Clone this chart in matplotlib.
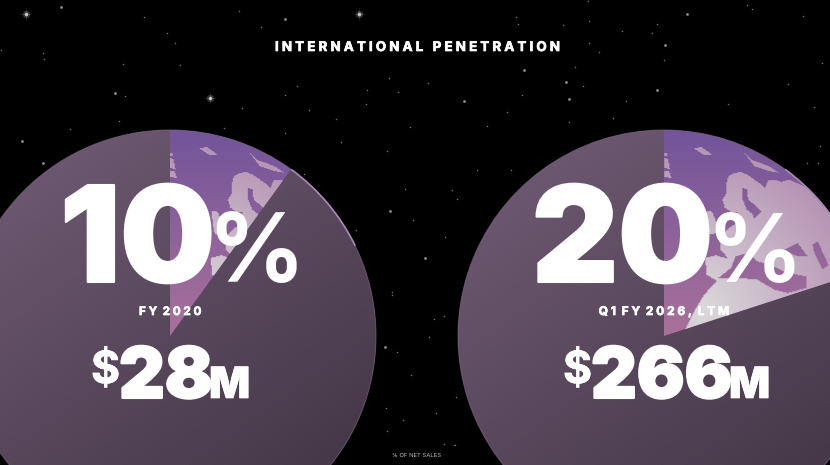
#!/usr/bin/env python3
# -*- coding: utf-8 -*-
import numpy as np
import matplotlib
matplotlib.use('Agg')
import matplotlib.pyplot as plt
import matplotlib.patheffects as pe
from matplotlib.patches import Arc
from matplotlib.path import Path
from matplotlib.colors import to_rgb

W, H = 830, 465

# chart values
title = 'I N T E R N A T I O N A L   P E N E T R A T I O N'
shares = [10, 20]
share_labels = ['10', '20']
periods = ['F Y  2 0 2 0', 'Q 1  F Y  2 0 2 6 ,  L T M']
dollars = ['28', '266']
footnote = '% OF NET SALES'

# globe centres and radius in picture pixels
centers = [(170, 336), (664, 336)]
radius = 206

# stars: x, y
stars_big = [(26, 14), (359, 14), (210, 98)]
stars_mid = [(115, 93), (390, 211), (385, 347), (464, 101), (566, 82), (657, 90), (524, 70),
             (61, 7), (285, 19), (665, 45), (687, 14), (43, 163), (22, 141), (425, 258), (569, 99)]
stars_small = [(588, 1), (657, 24), (747, 5), (752, 9), (803, 16), (664, 60), (575, 67), (583, 86),
               (428, 83), (788, 84), (822, 63), (814, 107), (613, 118), (569, 122), (487, 126),
               (507, 112), (522, 95), (626, 101), (728, 104), (518, 24), (589, 21), (563, 25),
               (622, 31), (652, 33), (599, 52), (589, 43), (516, 17), (43, 53), (44, 59), (180, 65),
               (175, 43), (167, 33), (261, 27), (239, 11), (309, 110), (366, 104), (367, 90),
               (389, 78), (398, 92), (297, 86), (285, 95), (336, 119), (285, 133), (70, 129),
               (224, 128), (125, 96), (123, 64), (144, 17), (119, 121), (410, 127), (1, 50),
               (242, 108), (445, 237), (405, 189), (413, 220), (452, 190), (457, 199), (387, 151),
               (392, 292), (392, 295), (434, 319), (444, 316), (429, 337), (397, 352), (411, 375),
               (456, 397), (436, 413), (386, 408), (403, 420), (454, 445), (444, 444), (387, 431),
               (356, 230), (304, 174), (341, 142), (477, 170), (511, 170), (455, 445), (818, 163),
               (820, 146), (807, 163), (395, 455)]

land_shapes = [
    [(262, 155), (280, 146), (298, 142), (320, 150), (340, 165), (360, 178), (372, 190), (382, 168),
     (400, 165), (420, 172), (445, 165), (500, 190), (575, 240),
     (640, 300), (640, 560), (120, 640), (160, 560), (190, 510), (228, 468), (198, 450), (195, 420),
     (192, 400), (225, 392), (262, 402), (240, 375), (235, 340), (262, 312), (292, 292), (286, 272),
     (290, 262), (270, 262), (252, 250), (245, 225), (258, 205), (255, 185)],
    [(195, 258), (215, 262), (225, 290), (232, 325), (205, 330), (200, 300)],
    [(160, 72), (180, 67), (200, 80), (212, 90), (190, 92)],
    [(310, 85), (330, 105), (385, 125), (415, 145), (385, 140), (340, 125)],
    [(70, 85), (80, 85), (80, 95), (72, 95)],
    [(72, 100), (82, 105), (88, 135), (72, 130)],
    [(72, 140), (85, 140), (92, 160), (72, 158)],
]
sea_shapes = [
    [(305, 190), (318, 195), (322, 225), (340, 240), (362, 262), (350, 272), (340, 282), (335, 268),
     (318, 255), (306, 225)],
    [(285, 395), (320, 385), (350, 410), (385, 420), (430, 440), (470, 450), (495, 455), (495, 490),
     (440, 505), (400, 495), (350, 465), (300, 460), (230, 462), (270, 430)],
    [(430, 375), (470, 355), (500, 395), (470, 395), (440, 382)],
    [(515, 360), (530, 350), (562, 420), (545, 435), (520, 385)],
]


def blend(t, c0, c1):
    t = np.clip(t, 0, 1)[..., None]
    return np.array(to_rgb(c0)) * (1 - t) + np.array(to_rgb(c1)) * t


def shape_mask(shapes, px, py):
    pts = np.column_stack([px.ravel(), py.ravel()])
    mask = np.zeros(len(pts), dtype=bool)
    for shape in shapes:
        # crop pixels -> offsets from the globe centre
        verts = [(640 + x / 3 - 664, 125 + y / 3 - 336) for x, y in shape]
        mask |= Path(verts).contains_points(pts)
    return mask.reshape(px.shape)


fig = plt.figure(figsize=(W / 100, H / 100), dpi=100, facecolor='black')
ax = fig.add_axes([0, 0, 1, 1])

ax.scatter(*zip(*[(x, H - y) for x, y in stars_big]), s=30, color='white', alpha=0.18, lw=0, zorder=1)
ax.scatter(*zip(*[(x, H - y) for x, y in stars_big]), s=7, color='#bdbdbd', lw=0, zorder=1)
ax.scatter(*zip(*[(x, H - y) for x, y in stars_big]), s=70, marker='+', color='white', alpha=0.2, lw=0.4, zorder=1)
ax.scatter(*zip(*[(x, H - y) for x, y in stars_mid]), s=4, color='#8c8c8c', lw=0, zorder=1)
ax.scatter(*zip(*[(x, H - y) for x, y in stars_small]), s=1.2, color='#6e6e6e', lw=0, zorder=1)

for i, (cx, cy) in enumerate(centers):
    wedges, _ = ax.pie([shares[i], 100 - shares[i]], startangle=90, counterclock=False,
                       center=(cx, H - cy), radius=radius, colors=['#85609a', '#54445a'],
                       wedgeprops={'linewidth': 0, 'zorder': 2})

    px, py = np.meshgrid(np.arange(-radius, radius + 1.0), np.arange(-radius, radius + 1.0))
    extent = (cx - radius - 0.5, cx + radius + 0.5, H - cy - radius - 0.5, H - cy + radius + 0.5)

    # disc shading, light at upper left, dark at lower right
    t = 0.5 + 0.62 * (0.7 * py + 0.5 * px) / radius
    disc = blend(t, '#6a566e', '#463849')
    im = ax.imshow(disc, extent=extent, origin='upper', zorder=3, interpolation='bilinear')
    im.set_clip_path(wedges[1])

    # sea
    sea = blend((py + radius) / radius, '#72549a', '#a9719b')
    im = ax.imshow(sea, extent=extent, origin='upper', zorder=3, interpolation='bilinear')
    im.set_clip_path(wedges[0])

    # land, shared map cut by the wedge
    land = shape_mask(land_shapes, px, py) & ~shape_mask(sea_shapes, px, py)
    glow = np.hypot(px - 36, py + 27) / 170
    rgba = np.dstack([blend(glow, '#dbd9db', '#b48fb2'), land.astype(float)])
    im = ax.imshow(rgba, extent=extent, origin='upper', zorder=4, interpolation='bilinear')
    im.set_clip_path(wedges[0])

    ax.add_patch(Arc((cx, H - cy), 2 * radius, 2 * radius, theta1=0, theta2=360, color='#75647c',
                     lw=0.8, alpha=0.6, zorder=5))
    ax.add_patch(Arc((cx, H - cy), 2 * radius, 2 * radius, theta1=26, theta2=54, color='#a88ab6',
                     lw=1.2, zorder=5))

ax.set_xlim(0, W)
ax.set_ylim(0, H)
ax.set_aspect('auto')
ax.axis('off')

font = ['Inter', 'Lato', 'DejaVu Sans']
tc = dict(color='white', family=font, zorder=10)
heavy = [pe.withStroke(linewidth=1.5, foreground='white')]
thick = [pe.withStroke(linewidth=0.5, foreground='white')]

ax.text(417, H - 48, title, ha='center', va='center', fontsize=9.6, weight='bold',
        path_effects=thick, **tc)

# big percent figures
ax.text(60, H - 282, share_labels[0], ha='left', va='baseline', fontsize=96, weight='black', path_effects=heavy, **tc)
ax.text(207, H - 282, '%', ha='left', va='baseline', fontsize=69, weight='bold', **tc)
ax.text(532, H - 282, share_labels[1], ha='left', va='baseline', fontsize=96, weight='black', path_effects=heavy, **tc)
ax.text(706, H - 282, '%', ha='left', va='baseline', fontsize=68, weight='bold', **tc)

ax.text(170, H - 312, periods[0], ha='center', va='center', fontsize=8.4, weight='bold', path_effects=thick, **tc)
ax.text(664, H - 312, periods[1], ha='center', va='center', fontsize=8.6, weight='bold', path_effects=thick, **tc)

# dollar amounts
ax.text(91, H - 383, '$', ha='left', va='baseline', fontsize=32, weight='bold', path_effects=thick, **tc)
ax.text(119, H - 398, dollars[0], ha='left', va='baseline', fontsize=51, weight='black', path_effects=heavy, **tc)
ax.text(209, H - 398, 'M', ha='left', va='baseline', fontsize=31, weight='black', path_effects=thick, **tc)
ax.text(563, H - 383, '$', ha='left', va='baseline', fontsize=32, weight='bold', path_effects=thick, **tc)
ax.text(591, H - 398, dollars[1], ha='left', va='baseline', fontsize=51, weight='black', path_effects=heavy, **tc)
ax.text(729, H - 398, 'M', ha='left', va='baseline', fontsize=31, weight='black', path_effects=thick, **tc)

ax.text(416.5, H - 455.5, footnote, ha='center', va='center', fontsize=4.3, color='#bbbbbb', family=font, zorder=10)

fig.savefig('out.png', dpi=100, facecolor='black')
